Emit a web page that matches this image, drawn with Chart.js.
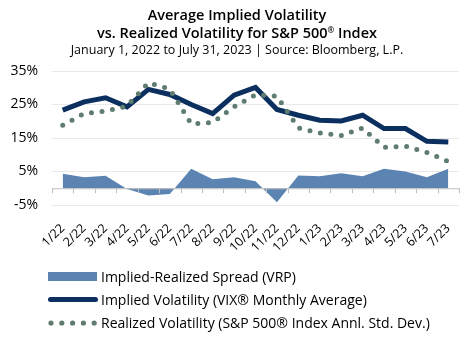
<!DOCTYPE html>
<html>
<head>
<meta charset="utf-8">
<script src="https://cdn.jsdelivr.net/npm/chart.js@4/dist/chart.umd.min.js"></script>
<style>
  html, body { margin: 0; padding: 0; background: #fff; }
  body { width: 474px; height: 342px; overflow: hidden; font-family: "Open Sans", sans-serif; color: #000; }
  #wrap { position: relative; width: 474px; height: 342px; }
  #chart { position: absolute; left: 0; top: 0; }
  .t { position: absolute; left: 0; width: 474px; text-align: center; white-space: nowrap; }
  .t1 { font-weight: 600; font-size: 14.5px; }
  .t2 { font-size: 12.5px; }
  sup { font-size: 8px; vertical-align: 5px; line-height: 0; }
  #legend { position: absolute; left: 46px; top: 265px; font-size: 14px; }
  .row { position: relative; height: 23px; line-height: 23px; padding-left: 55px; white-space: nowrap; }
  .sw { position: absolute; left: 2px; }
</style>
</head>
<body>
<div id="wrap">
  <canvas id="chart" width="474" height="342"></canvas>
  <div class="t t1" style="top:5px">Average Implied Volatility</div>
  <div class="t t1" style="top:23px">vs. Realized Volatility for S&amp;P 500<sup>®</sup> Index</div>
  <div class="t t2" style="top:41px">January 1, 2022 to July 31, 2023 | Source: Bloomberg, L.P.</div>
  <div id="legend">
    <div class="row"><span class="sw" style="top:7px;width:49px;height:9px;background:#5b84b3"></span>Implied-Realized Spread (VRP)</div>
    <div class="row"><span class="sw" style="top:9px;width:50px;height:5px;border-radius:3px;background:#0b2f5e"></span>Implied Volatility (VIX® Monthly Average)</div>
    <div class="row"><canvas class="sw" id="dots" width="52" height="10" style="top:7px"></canvas>Realized Volatility (S&amp;P 500® Index Annl. Std. Dev.)</div>
  </div>
</div>
<script>
const months = ['1/22', '2/22', '3/22', '4/22', '5/22', '6/22', '7/22', '8/22', '9/22', '10/22',
  '11/22', '12/22', '1/23', '2/23', '3/23', '4/23', '5/23', '6/23', '7/23'];
const implied = [23.3, 25.8, 27.0, 24.3, 29.5, 28.0, 25.0, 22.3, 27.8, 30.1,
  23.5, 21.8, 20.3, 20.1, 21.8, 17.8, 17.8, 14.0, 13.8];
const realized = [18.8, 22.3, 23.0, 24.5, 31.5, 29.6, 19.2, 19.6, 24.3, 27.9,
  27.5, 18.0, 16.5, 15.7, 18.0, 12.2, 12.6, 10.7, 8.0];
const spread = [4.3, 3.3, 3.7, -0.2, -2.2, -1.7, 5.8, 2.7, 3.3, 2.1,
  -4.2, 3.8, 3.6, 4.5, 3.6, 5.8, 5.0, 3.3, 5.8];
const yTicks = [-5, 5, 15, 25, 35];

const navy = '#0b2f5e';
const dotColor = '#5f7d6e';
const areaColor = '#5b84b3';
const axisGray = '#bfbfbf';

// legend dots
(() => {
  const c = document.getElementById('dots').getContext('2d');
  c.fillStyle = dotColor;
  for (let i = 0; i < 5; i++) {
    c.beginPath();
    c.arc(3 + i * 10.8, 5, 2.6, 0, Math.PI * 2);
    c.fill();
  }
})();

// zero line with tick marks between months
const zeroAxis = {
  id: 'zeroAxis',
  afterDatasetsDraw(chart) {
    const { ctx, scales: { x, y } } = chart;
    const y0 = y.getPixelForValue(0);
    const half = (x.getPixelForValue(1) - x.getPixelForValue(0)) / 2;
    ctx.save();
    ctx.strokeStyle = axisGray;
    ctx.lineWidth = 1;
    ctx.beginPath();
    ctx.moveTo(x.left, y0 + 0.5);
    ctx.lineTo(x.right, y0 + 0.5);
    for (let i = 0; i <= months.length; i++) {
      const px = Math.round(x.getPixelForValue(i) - half) + 0.5;
      ctx.moveTo(px, y0);
      ctx.lineTo(px, y0 + 5);
    }
    ctx.stroke();
    ctx.restore();
  }
};

new Chart(document.getElementById('chart'), {
  type: 'line',
  data: {
    labels: months,
    datasets: [
      {
        label: 'Realized Volatility (S&P 500® Index Annl. Std. Dev.)',
        data: realized,
        borderColor: dotColor,
        borderWidth: 5,
        borderDash: [0, 10.6],
        borderCapStyle: 'round',
        pointRadius: 0,
        tension: 0,
        order: 1
      },
      {
        label: 'Implied Volatility (VIX® Monthly Average)',
        data: implied,
        borderColor: navy,
        borderWidth: 5,
        borderJoinStyle: 'miter',
        pointRadius: 0,
        tension: 0,
        order: 2
      },
      {
        label: 'Implied-Realized Spread (VRP)',
        data: spread,
        borderWidth: 0,
        borderColor: areaColor,
        backgroundColor: areaColor,
        fill: 'origin',
        pointRadius: 0,
        tension: 0,
        order: 3
      }
    ]
  },
  options: {
    responsive: false,
    animation: false,
    events: [],
    layout: { padding: { top: 71, right: 15, bottom: 87, left: 0 } },
    plugins: { legend: { display: false }, tooltip: { enabled: false }, title: { display: false } },
    scales: {
      x: {
        offset: true,
        grid: { display: false },
        border: { display: false },
        ticks: {
          color: '#000',
          font: { family: 'Open Sans', size: 12.5 },
          maxRotation: 45,
          minRotation: 45,
          autoSkip: false,
          padding: 8
        },
        afterFit: s => { s.height = 50; }
      },
      y: {
        min: -5,
        max: 35,
        afterBuildTicks: s => { s.ticks = yTicks.map(v => ({ value: v })); },
        grid: { color: '#e9e9e9', drawTicks: false, lineWidth: 1 },
        border: { display: false },
        ticks: {
          color: '#000',
          font: { family: 'Open Sans', size: 14 },
          padding: 14,
          callback: v => v + '%'
        },
        afterFit: s => { s.width = 52; }
      }
    }
  },
  plugins: [zeroAxis]
});
</script>
</body>
</html>
